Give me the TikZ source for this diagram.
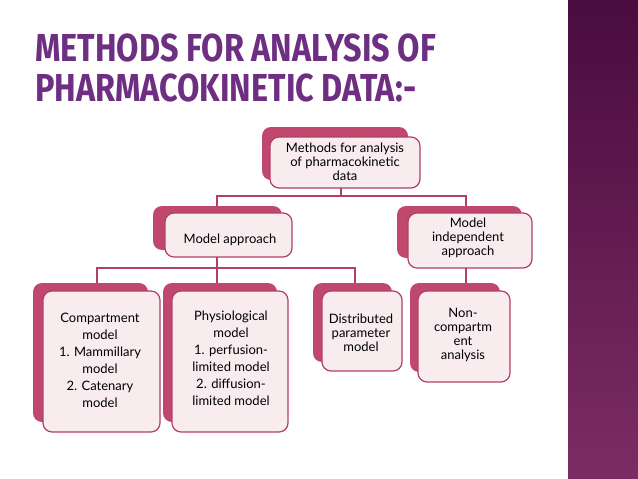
\documentclass[tikz,border=0pt]{standalone}
\usepackage{fontspec}
\setmainfont{Lato}
\newfontfamily\titlefont{Fira Sans}
\usetikzlibrary{positioning}
\definecolor{shad}{HTML}{C0476D}
\definecolor{bord}{HTML}{B23F66}
\definecolor{boxfill}{HTML}{F8ECEF}
\definecolor{ttl}{HTML}{6E2F82}
\definecolor{barA}{HTML}{4A0C3F}
\definecolor{barB}{HTML}{7C2C63}
\begin{document}
\begin{tikzpicture}[x=1pt,y=-1pt,
  shadow/.style={fill=shad,rounded corners=9pt},
  front/.style={draw=bord,line width=1.2pt,fill=boxfill,rounded corners=9pt},
  lbl/.style={align=center,font=\fontsize{13}{14}\selectfont,text=black},
  lbl2/.style={align=center,font=\fontsize{13}{17}\selectfont,text=black},
  conn/.style={draw=bord,line width=1.1pt}]
\useasboundingbox (0,0) rectangle (638,479);
\fill[white] (0,0) rectangle (638,479);
\shade[top color=barA,bottom color=barB] (568,0) rectangle (638,479);
% title
\node[anchor=west,inner sep=0,text=ttl] (t1) at (35,48) {\scalebox{1.08}[1.3]{\titlefont\bfseries\fontsize{30}{32}\selectfont METHODS FOR ANALYSIS OF}};
\node[anchor=west,inner sep=0,text=ttl] (t2) at (35,88) {\scalebox{1.08}[1.3]{\titlefont\bfseries\fontsize{30}{32}\selectfont PHARMACOKINETIC DATA:-}};
% boxes: shadow then front
\fill[shadow] (262,127) rectangle (408,180);
\draw[front] (270,137) rectangle (420,188);
\node[lbl] (top) at (345,162) {Methods for analysis\\of pharmacokinetic\\data};
\fill[shadow] (153,206) rectangle (282,250);
\draw[front] (165,213) rectangle (292,257);
\node[lbl] (ma) at (230,240) {Model approach};
\fill[shadow] (397,206) rectangle (522,258);
\draw[front] (408,213) rectangle (532,268);
\node[lbl] (mi) at (468,238) {Model\\independent\\approach};
\fill[shadow] (33,283) rectangle (148,422);
\draw[front] (43,291) rectangle (160,432);
\node[lbl2] (cm) at (100,360) {Compartment\\model\\1. Mammillary\\model\\2. Catenary\\model};
\fill[shadow] (163,283) rectangle (277,422);
\draw[front] (172,291) rectangle (288,432);
\node[lbl2] (pm) at (231,358) {Physiological\\model\\1. perfusion-\\limited model\\2. diffusion-\\limited model};
\fill[shadow] (313,283) rectangle (392,362);
\draw[front] (322,291) rectangle (402,371);
\node[lbl] (dp) at (361,333) {Distributed\\parameter\\model};
\fill[shadow] (410,283) rectangle (500,372);
\draw[front] (418,291) rectangle (510,382);
\node[lbl] (nc) at (463,335) {Non-\\compartm\\ent\\analysis};
% connectors
\coordinate (j1) at (341,196);
\draw[conn] (341,188) -- (j1);
\draw[conn] (217,206) |- (j1) -| (466,206);
\coordinate (j2) at (217,268);
\draw[conn] (217,257) -- (j2);
\draw[conn] (97,283) |- (j2) -| (355,283);
\draw[conn] (217,268) -- (217,283);
\draw[conn] (466,268) -- (466,283);
\end{tikzpicture}
\end{document}
